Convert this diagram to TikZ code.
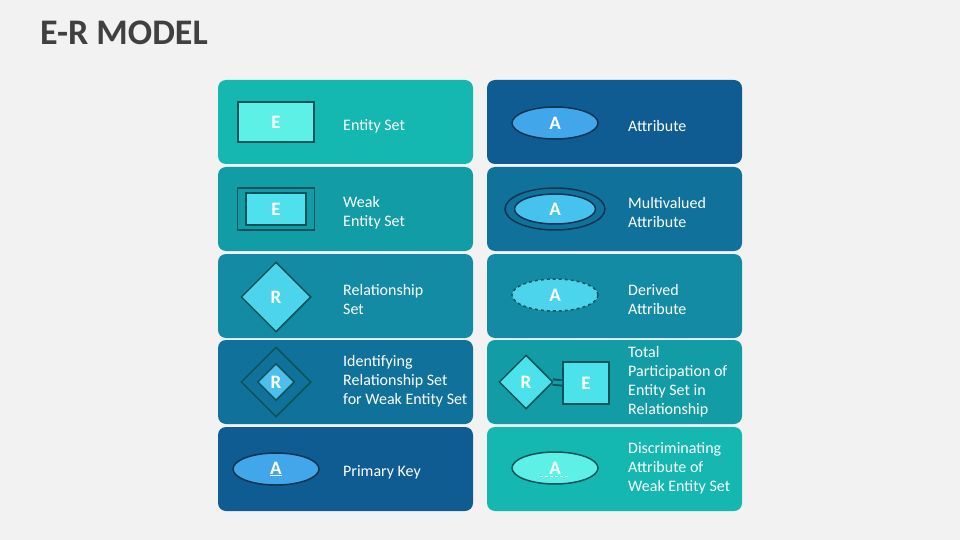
\documentclass[tikz,border=0pt]{standalone}
\usepackage{fontspec}
\setmainfont{Carlito}
\usetikzlibrary{shapes.geometric,positioning}

\definecolor{bgpage}{HTML}{F2F2F2}
\definecolor{titlegray}{HTML}{404040}
\definecolor{rowA}{HTML}{14B8B1}
\definecolor{rowB}{HTML}{129DA6}
\definecolor{rowC}{HTML}{138BA4}
\definecolor{rowD}{HTML}{10729A}
\definecolor{rowE}{HTML}{0E5C91}
\definecolor{darkteal}{HTML}{0C5256}
\definecolor{darknavy}{HTML}{0F3450}
\definecolor{fillEnt}{HTML}{5CF0E6}
\definecolor{fillWeak}{HTML}{4EE0EC}
\definecolor{fillRel}{HTML}{4CD4EC}
\definecolor{fillIdent}{HTML}{4DBFEE}
\definecolor{fillAttr}{HTML}{42A6EA}
\definecolor{fillMulti}{HTML}{45C2EE}
\definecolor{fillTotal}{HTML}{4CE2EC}

\tikzset{
  lbl/.style={anchor=west, align=left, text=white, inner sep=0,
    font=\fontsize{16}{19}\selectfont},
  sym/.style={text=white, inner sep=0, font=\bfseries\fontsize{19}{19}\selectfont},
  entbox/.style={draw=darkteal, line width=1.5pt, minimum width=76pt, minimum height=40pt},
  relbox/.style={diamond, draw=darkteal, line width=1.5pt, shape aspect=1},
  attrbox/.style={ellipse, draw=darknavy, line width=1.5pt, minimum width=86pt, minimum height=32pt}
}

\begin{document}
\begin{tikzpicture}[x=1pt,y=-1pt]
\fill[bgpage] (0,0) rectangle (960,540);
\useasboundingbox (0,0) rectangle (960,540);

\node[anchor=base west, inner sep=0, text=titlegray,
  font=\bfseries\fontsize{36}{36}\selectfont] (title) at (40,45) {E-R MODEL};

% panels
\foreach \y/\c in {80/rowA,167/rowB,254/rowC,340/rowD,427/rowE}
  \fill[\c, rounded corners=8pt] (218,\y) rectangle (473,\y+84);
\foreach \y/\c in {80/rowE,167/rowD,254/rowC,340/rowB,427/rowA}
  \fill[\c, rounded corners=8pt] (487,\y) rectangle (742,\y+84);

% left column
\node[entbox, fill=fillEnt, sym] (ent) at (276,122) {E};
\node[lbl] (entTxt) at (343,126) {Entity Set};

\node[entbox, minimum height=42pt, minimum width=77pt] (weakOut) at (276,209) {};
\node[entbox, fill=fillWeak, minimum width=60pt, minimum height=32pt, sym] (weak) at (276,209) {E};
\node[lbl] (weakTxt) at (343,213) {Weak\\Entity Set};

\node[relbox, fill=fillRel, minimum size=70pt, sym] (rel) at (276,297) {R};
\node[lbl] (relTxt) at (343,300) {Relationship\\Set};

\node[relbox, minimum size=70pt] (identOut) at (276,382) {};
\node[relbox, fill=fillIdent, minimum size=37pt, sym] (ident) at (276,382) {R};
\node[lbl] (identTxt) at (343,381) {Identifying\\Relationship Set\\for Weak Entity Set};

\node[attrbox, fill=fillAttr, sym] (pk) at (276,469) {\underline{A}};
\node[lbl] (pkTxt) at (343,472) {Primary Key};

% right column
\node[attrbox, fill=fillAttr, sym] (attr) at (555,123) {A};
\node[lbl] (attrTxt) at (628,126) {Attribute};

\node[attrbox, minimum width=100pt, minimum height=42pt] (multiOut) at (555,209) {};
\node[attrbox, fill=fillMulti, minimum width=81pt, minimum height=30pt, sym] (multi) at (555,209) {A};
\node[lbl] (multiTxt) at (628,213) {Multivalued\\Attribute};

\node[attrbox, draw=darkteal, dashed, fill=fillRel, sym] (derived) at (555,295) {A};
\node[lbl] (derivedTxt) at (628,300) {Derived\\Attribute};

\node[relbox, fill=fillTotal, minimum size=54pt, sym] (totR) at (526,382) {R};
\node[entbox, fill=fillTotal, minimum width=46pt, minimum height=42pt, sym] (totE) at (586,383) {E};
\draw[darkteal, line width=1.9pt, double=rowB, double distance=3.4pt] ([xshift=-1pt]totR.east) -- (totE.west);
\node[lbl] (totTxt) at (628,382) {Total\\Participation of\\Entity Set in\\Relationship};

\node[attrbox, draw=darkteal, fill=fillEnt, sym] (disc) at (555,468) {A};
\draw[white, densely dashed, line width=0.8pt] ([xshift=-15pt,yshift=-2.6pt]disc.base) -- ([xshift=15pt,yshift=-2.6pt]disc.base);
\node[lbl] (discTxt) at (628,468) {Discriminating\\Attribute of\\Weak Entity Set};

\end{tikzpicture}
\end{document}
